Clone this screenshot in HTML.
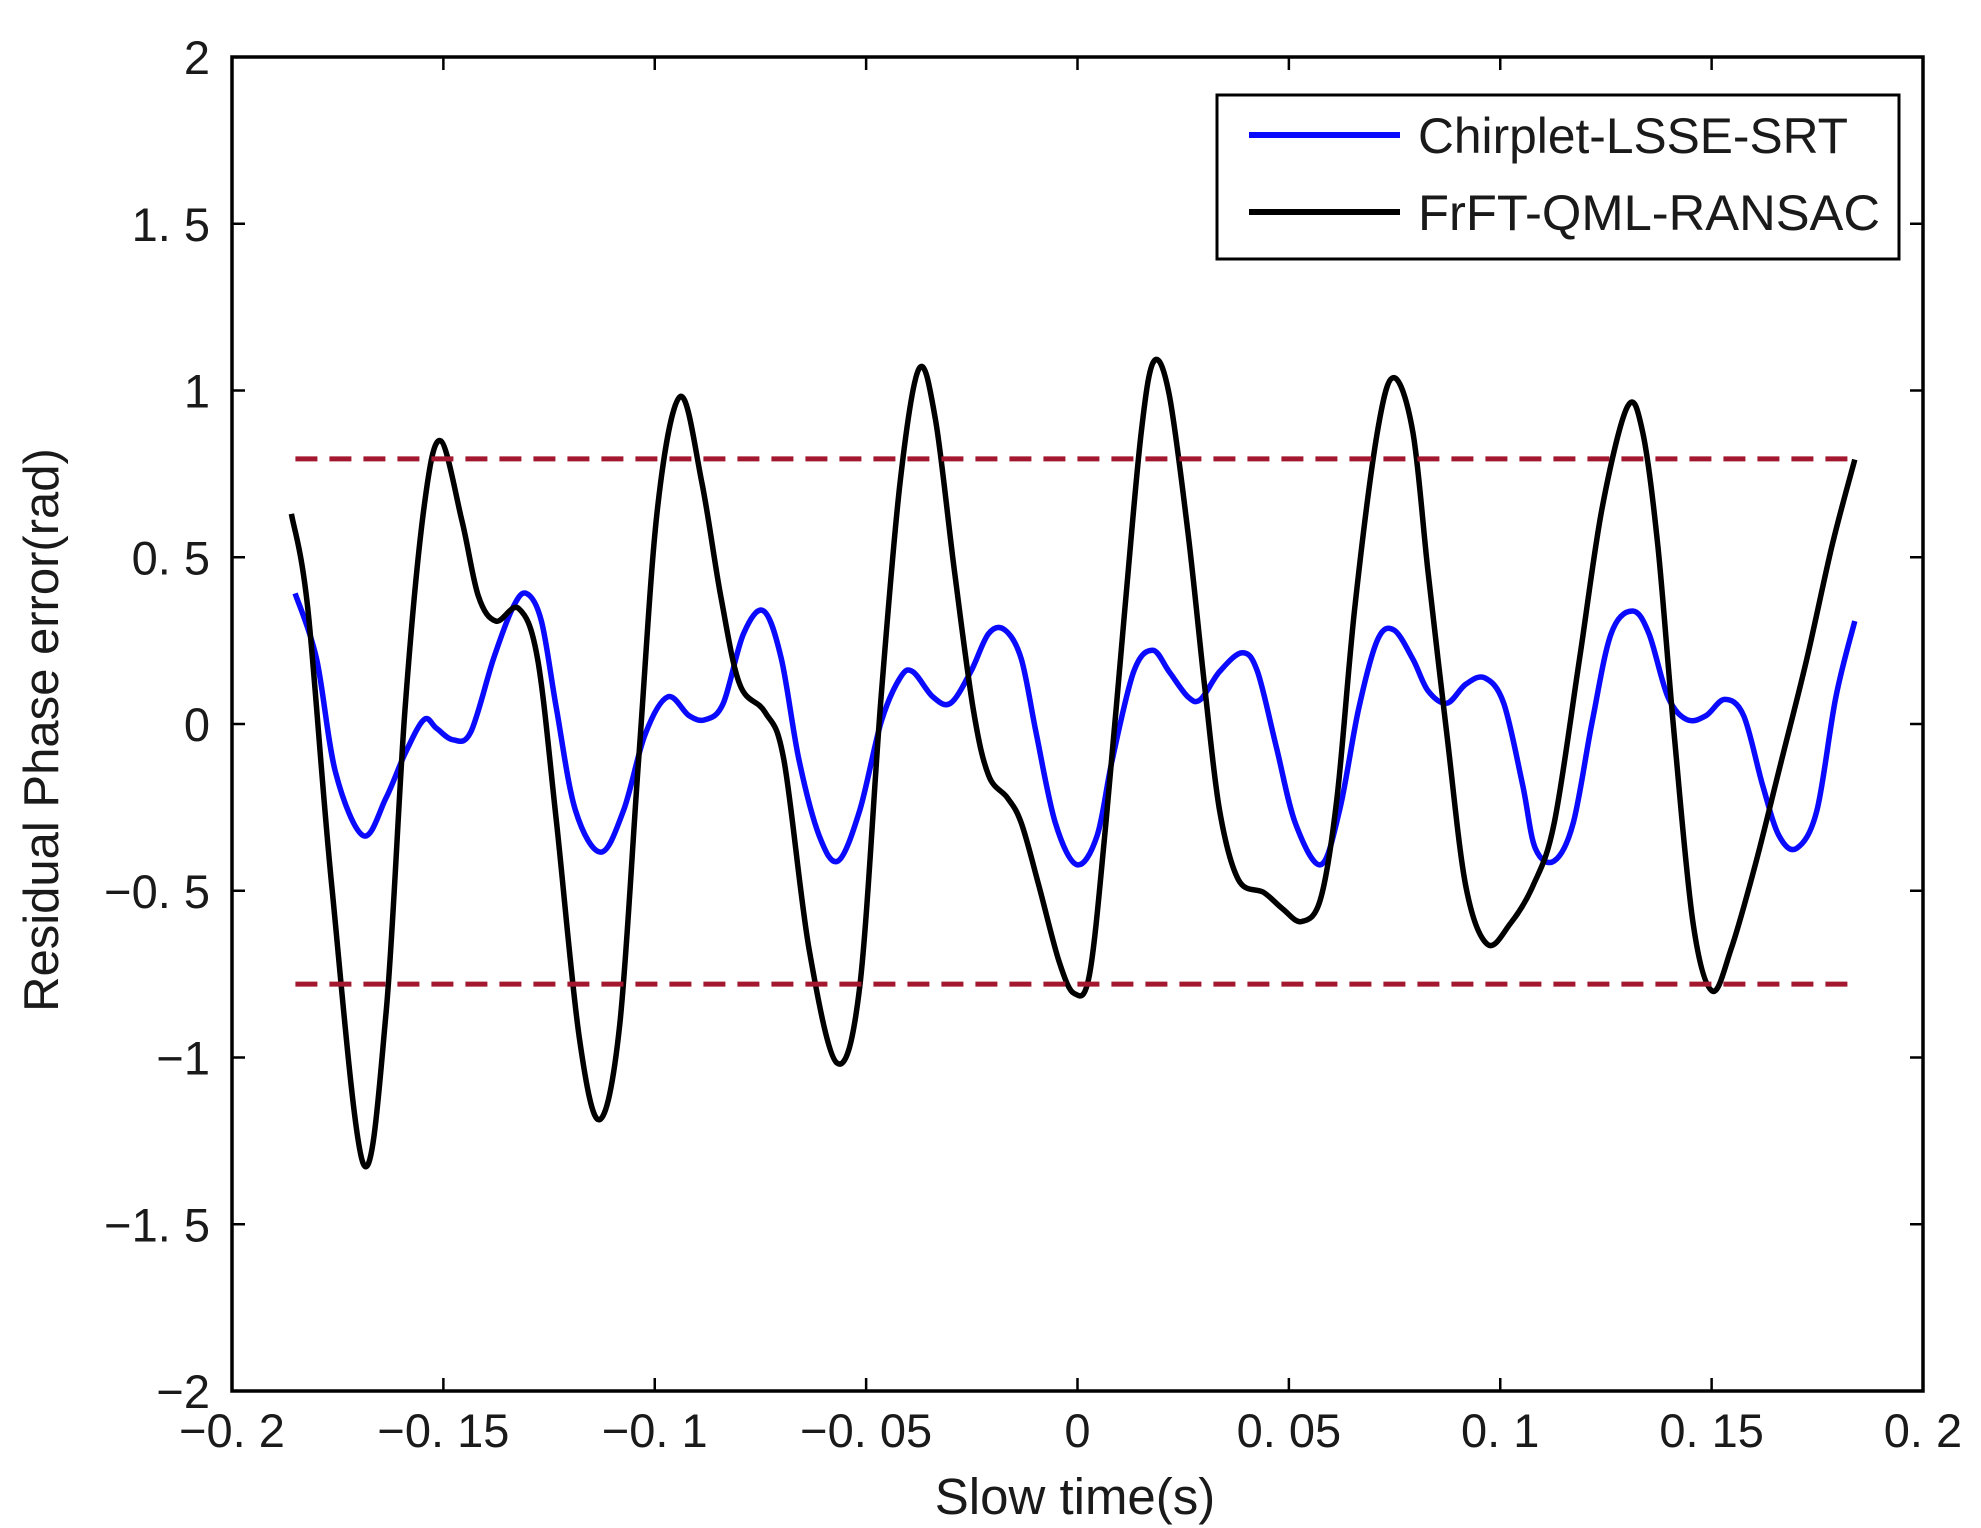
<!DOCTYPE html>
<html><head><meta charset="utf-8"><style>
html,body{margin:0;padding:0;background:#fff;}
svg{display:block;}
text{font-family:"Liberation Sans",sans-serif;fill:#1a1a1a;}
</style></head><body>
<svg id="s" width="1981" height="1528" viewBox="0 0 1981 1528" xmlns="http://www.w3.org/2000/svg">
<g id="ticks" stroke="#000" stroke-width="2.5"></g>
<g id="labels" font-size="47"></g>
<path id="blue" fill="none" stroke="#0a0aff" stroke-width="5.5" stroke-linejoin="round"/>
<path id="black" fill="none" stroke="#000" stroke-width="5.5" stroke-linejoin="round"/>
<line id="d1" stroke="#a3182e" stroke-width="5" stroke-dasharray="22,12"/>
<line id="d2" stroke="#a3182e" stroke-width="5" stroke-dasharray="22,12"/>
<rect x="232" y="57" width="1691" height="1334" fill="none" stroke="#000" stroke-width="3.5"/>
<rect x="1217" y="95" width="682" height="164" fill="#fff" stroke="#000" stroke-width="3"/>
<line x1="1249" y1="135" x2="1400" y2="135" stroke="#0a0aff" stroke-width="6"/>
<line x1="1249" y1="212" x2="1400" y2="212" stroke="#000" stroke-width="6"/>
<text x="1418" y="153" font-size="50" textLength="430" lengthAdjust="spacingAndGlyphs">Chirplet-LSSE-SRT</text>
<text x="1418" y="230" font-size="50" textLength="462" lengthAdjust="spacingAndGlyphs">FrFT-QML-RANSAC</text>
<text x="1075" y="1514" font-size="51" text-anchor="middle">Slow time(s)</text>
<text transform="translate(58,730) rotate(-90)" font-size="49" text-anchor="middle">Residual Phase error(rad)</text>
</svg>
<script>
function X(p){return 232+(p-183)*(1923-232)/(1522-183);}
function Y(p){return 57+(p-43)*(1391-57)/(1100-43);}
function path(pts){
 var P=pts.map(function(a){return [X(a[0]),Y(a[1])];});
 var d="M"+P[0][0].toFixed(1)+","+P[0][1].toFixed(1);
 for(var i=0;i<P.length-1;i++){
  var p0=P[i-1]||P[i],p1=P[i],p2=P[i+1],p3=P[i+2]||P[i+1];
  var c1=[p1[0]+(p2[0]-p0[0])/6,p1[1]+(p2[1]-p0[1])/6];
  var c2=[p2[0]-(p3[0]-p1[0])/6,p2[1]-(p3[1]-p1[1])/6];
  d+="C"+c1[0].toFixed(1)+","+c1[1].toFixed(1)+" "+c2[0].toFixed(1)+","+c2[1].toFixed(1)+" "+p2[0].toFixed(1)+","+p2[1].toFixed(1);
 }
 return d;
}
var black=[[230,405],[243,480],[262,700],[287,920],[305,800],[320,560],[335,400],[348,347],[365,410],[378,470],[392,490],[410,480],[425,520],[440,650],[458,820],[474,885],[490,810],[505,600],[520,400],[538,312],[555,380],[570,470],[585,540],[605,562],[620,600],[640,750],[662,840],[680,780],[697,550],[712,380],[727,290],[740,330],[755,450],[770,560],[782,612],[797,630],[808,650],[822,700],[838,760],[850,785],[862,770],[875,650],[890,480],[903,340],[913,284],[925,310],[940,420],[953,540],[965,640],[980,695],[1000,705],[1015,718],[1030,728],[1045,710],[1058,630],[1072,480],[1090,340],[1103,297],[1118,340],[1130,450],[1145,580],[1160,700],[1177,746],[1195,730],[1213,700],[1230,650],[1250,520],[1268,400],[1288,320],[1300,340],[1312,430],[1325,580],[1340,730],[1355,783],[1370,750],[1390,680],[1410,600],[1430,520],[1450,430],[1468,362]];
var blue=[[233,468],[250,520],[265,610],[287,660],[305,630],[320,595],[335,568],[345,575],[358,584],[372,578],[390,520],[405,480],[416,468],[428,490],[440,560],[455,640],[475,673],[493,640],[510,580],[528,550],[545,565],[558,568],[572,555],[588,500],[604,482],[618,520],[632,600],[648,660],[663,680],[680,640],[697,570],[712,535],[722,530],[738,550],[752,555],[768,530],[782,500],[795,497],[808,520],[820,580],[835,650],[852,683],[868,660],[880,600],[897,530],[912,513],[925,530],[940,550],[950,552],[965,530],[983,515],[995,530],[1010,590],[1025,650],[1045,683],[1060,640],[1075,560],[1090,505],[1103,497],[1118,520],[1130,545],[1145,555],[1160,540],[1175,535],[1190,555],[1205,620],[1215,670],[1230,680],[1245,650],[1260,570],[1275,500],[1292,482],[1305,500],[1320,550],[1335,568],[1350,565],[1365,552],[1380,565],[1395,620],[1408,660],[1422,670],[1438,640],[1453,550],[1468,490]];
document.getElementById("black").setAttribute("d",path(black));
document.getElementById("blue").setAttribute("d",path(blue));
function dx(v){return 232+(v+0.2)/0.4*1691;}
function dy(v){return 724-v*333.5;}
[["d1",0.795],["d2",-0.78]].forEach(function(a){var e=document.getElementById(a[0]);e.setAttribute("x1",dx(-0.185));e.setAttribute("x2",dx(0.1835));e.setAttribute("y1",dy(a[1]));e.setAttribute("y2",dy(a[1]));});
var T=document.getElementById("ticks"),L=document.getElementById("labels"),NS="http://www.w3.org/2000/svg";
function ln(a,b,c,d){var e=document.createElementNS(NS,"line");e.setAttribute("x1",a);e.setAttribute("y1",b);e.setAttribute("x2",c);e.setAttribute("y2",d);T.appendChild(e);}
function tx(x,y,s,anc){var e=document.createElementNS(NS,"text");e.setAttribute("x",x);e.setAttribute("y",y);e.setAttribute("text-anchor",anc);e.textContent=s;L.appendChild(e);}
var xl=["\u22120. 2","\u22120. 15","\u22120. 1","\u22120. 05","0","0. 05","0. 1","0. 15","0. 2"];
for(var i=0;i<9;i++){var x=232+i*1691/8;ln(x,57,x,70);ln(x,1391,x,1378);tx(x,1447,xl[i],"middle");}
var yl=["2","1. 5","1","0. 5","0","\u22120. 5","\u22121","\u22121. 5","\u22122"];
for(var j=0;j<9;j++){var y=57+j*1334/8;ln(232,y,245,y);ln(1923,y,1910,y);tx(210,y+17,yl[j],"end");}
</script>
</body></html>
